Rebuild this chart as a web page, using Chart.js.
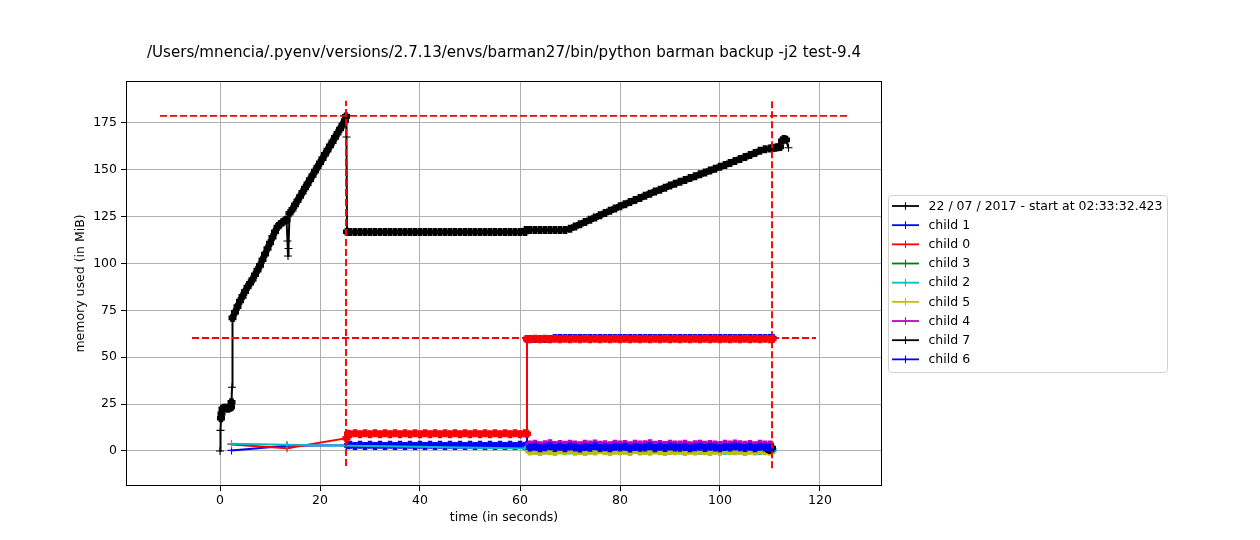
<!DOCTYPE html>
<html>
<head>
<meta charset="utf-8">
<script src="https://cdn.jsdelivr.net/npm/chart.js@4.4.0/dist/chart.umd.min.js"></script>
<style>
  html, body { margin: 0; padding: 0; background: #fff; }
  #marco { width: 1260px; height: 540px; }
</style>
</head>
<body>
<div id="marco"><canvas id="grafica" width="1260" height="540"></canvas></div>
<script>
// ==================== DATOS ====================

const titulo = '/Users/mnencia/.pyenv/versions/2.7.13/envs/barman27/bin/python barman backup -j2 test-9.4';
const etiquetaX = 'time (in seconds)';
const etiquetaY = 'memory used (in MiB)';
const nombres = ['22 / 07 / 2017 - start at 02:33:32.423', 'child 1', 'child 0', 'child 3', 'child 2', 'child 5', 'child 4', 'child 7', 'child 6'];

const ticksX = [0, 20, 40, 60, 80, 100, 120];
const ticksY = [0, 25, 50, 75, 100, 125, 150, 175];

// tiempos compartidos
const tMeseta = [26, 27, 28, 29, 30, 31, 32, 33, 34, 35, 36, 37, 38, 39, 40, 41, 42, 43, 44, 45, 46, 47, 48, 49, 50, 51, 52, 53, 54, 55, 56, 57, 58, 59, 60, 61];
const tFinal = [62, 63, 64, 65, 66, 67, 68, 69, 70, 71, 72, 73, 74, 75, 76, 77, 78, 79, 80, 81, 82, 83, 84, 85, 86, 87, 88, 89, 90, 91, 92, 93, 94, 95, 96, 97, 98, 99, 100, 101, 102, 103, 104, 105, 106, 107, 108, 109, 110];

// proceso principal
const mainInicioT = [0, 0.1, 0.2, 0.3, 0.5, 0.8, 1.2, 1.6, 2.0, 2.2,
  2.3, 2.4, 2.5, 3.0, 3.5, 4.0, 4.5, 5.0, 5.5, 6.0,
  6.5, 7.0, 7.5, 8.0, 8.5, 9.0, 9.5, 10.0, 10.5, 11.0,
  11.5, 12.0, 12.5, 13.0, 13.3, 13.5, 13.6, 13.7, 13.9, 14.5,
  15.0, 15.5, 16.0, 16.5, 17.0, 17.5, 18.0, 18.5, 19.0, 19.5,
  20.0, 20.5, 21.0, 21.5, 22.0, 22.5, 23.0, 23.5, 24.0, 24.5,
  25.0, 25.2, 25.3, 25.4, 25.6];
const mainInicioY = [0, 11, 17.5, 20, 22.5, 23, 23, 22.5, 23, 23.5,
  26, 34, 71, 74, 77, 80, 82.5, 85, 87.5, 89.5,
  91.5, 94, 96.5, 99, 102, 105, 108, 111, 114, 117,
  119.5, 121, 122, 123, 123.3, 112, 104, 108, 126.8, 129,
  131.3, 133.5, 135.8, 138, 140.3, 142.5, 144.8, 147, 149.3, 151.5,
  153.8, 156, 158.3, 160.5, 162.8, 165, 167.3, 169.5, 171.8, 174,
  176.3, 178.5, 167.5, 117, 116.8];
const mainMesetaY = [116.8, 116.8, 116.8, 116.8, 116.8, 116.8, 116.8, 116.8, 116.8, 116.8, 116.8, 116.8,
  116.8, 116.8, 116.8, 116.8, 116.8, 116.8, 116.8, 116.8, 116.8, 116.8, 116.8, 116.8,
  116.8, 116.8, 116.8, 116.8, 116.8, 116.8, 116.8, 116.8, 116.8, 116.8, 116.8, 116.8];
const mainPasoT = [61.2];
const mainPasoY = [117.9];
const mainFinalY = [117.9, 117.9, 117.9, 117.9, 117.9, 117.9, 117.9, 117.9,
  118.6, 119.8, 121.0, 122.2, 123.4, 124.6, 125.8, 127.0, 128.2, 129.4,
  130.6, 131.7, 132.8, 133.9, 135.0, 136.2, 137.3, 138.4, 139.4, 140.5,
  141.6, 142.6, 143.6, 144.6, 145.6, 146.6, 147.6, 148.6, 149.6, 150.6,
  151.6, 152.6, 153.7, 154.7, 155.8, 156.8, 157.9, 159.0, 160.2, 161.0,
  161.4];
const mainColaT = [110.5, 111, 111.5, 112, 112.4, 112.8, 113.2, 113.7];
const mainColaY = [161.6, 161.8, 162.0, 162.2, 165.5, 166.5, 166.0, 161.8];

// child 0
const c0InicioT = [2.3, 13.4, 25.3, 25.6];
const c0InicioY = [3.5, 1.4, 6.8, 9.2];
const c0MesetaY = [8.9, 9.5, 8.9, 9.5, 8.9, 9.5, 8.9, 9.5, 8.9, 9.5, 8.9, 9.5,
  8.9, 9.5, 8.9, 9.5, 8.9, 9.5, 8.9, 9.5, 8.9, 9.5, 8.9, 9.5,
  8.9, 9.5, 8.9, 9.5, 8.9, 9.5, 8.9, 9.5, 8.9, 9.5, 8.9, 9.5];
const c0PasoT = [61.4, 61.4];
const c0PasoY = [9.2, 59.7];
const c0FinalY = [59.6, 59.9, 59.6, 59.9, 59.6, 59.9, 59.6, 59.9, 59.6, 59.9,
  59.6, 59.9, 59.6, 59.9, 59.6, 59.9, 59.6, 59.9, 59.6, 59.9,
  59.6, 59.9, 59.6, 59.9, 59.6, 59.9, 59.6, 59.9, 59.6, 59.9,
  59.6, 59.9, 59.6, 59.9, 59.6, 59.9, 59.6, 59.9, 59.6, 59.9,
  59.6, 59.9, 59.6, 59.9, 59.6, 59.9, 59.6, 59.9, 59.6];
const c0ColaT = [110.5];
const c0ColaY = [59.7];

// child 1
const c1InicioT = [2.3, 13.4, 25.6];
const c1InicioY = [0.3, 2.8, 3.0];
const c1MesetaY = [3.3, 2.7, 3.3, 2.7, 3.3, 2.7, 3.3, 2.7, 3.3, 2.7, 3.3, 2.7,
  3.3, 2.7, 3.3, 2.7, 3.3, 2.7, 3.3, 2.7, 3.3, 2.7, 3.3, 2.7,
  3.3, 2.7, 3.3, 2.7, 3.3, 2.7, 3.3, 2.7, 3.3, 2.7, 3.3, 2.7];
const c1PasoT = [61.4, 61.4];
const c1PasoY = [3.0, 59.7];
const c1FinalY = [59.8, 59.8, 59.8, 59.8, 59.8,
  60.3, 60.3, 60.3, 60.3, 60.3, 60.3, 60.3, 60.3, 60.3, 60.3, 60.3,
  60.3, 60.3, 60.3, 60.3, 60.3, 60.3, 60.3, 60.3, 60.3, 60.3, 60.3,
  60.3, 60.3, 60.3, 60.3, 60.3, 60.3, 60.3, 60.3, 60.3, 60.3, 60.3,
  60.3, 60.3, 60.3, 60.3, 60.3, 60.3, 60.3, 60.3, 60.3, 60.3, 60.3];
const c1ColaT = [110.5];
const c1ColaY = [60.3];

// child 2
const c2InicioT = [2.3, 13.4, 61.5];
const c2InicioY = [3.8, 3.3, 1.3];
const c2FinalY = [0.4, 0.2, 0.5, 0.3, 0.1, 0.4, 0.6,
  0.2, 0.3, 0.5, 0.1, 0.4, 0.3, 0.2,
  0.5, 0.3, 0.6, 0.2, 0.4, 0.1, 0.3,
  0.5, 0.2, 0.4, 0.3, 0.6, 0.1, 0.4,
  0.2, 0.5, 0.3, 0.1, 0.4, 0.6, 0.2,
  0.3, 0.5, 0.2, 0.4, 0.1, 0.3, 0.5,
  0.2, 0.4, 0.6, 0.3, 0.1, 0.4, 0.3];
const c2ColaT = [110.5];
const c2ColaY = [0.4];

// child 3
const c3FinalY = [0.9, 0.4, 1.3, 0.7, 0.2, 1.1, 0.6,
  1.4, 0.5, 0.9, 1.2, 0.3, 1.0, 0.6,
  1.3, 0.8, 0.4, 1.1, 0.7, 1.4, 0.5,
  0.9, 1.2, 0.3, 0.8, 1.3, 0.6, 1.0,
  0.4, 1.1, 0.7, 1.4, 0.5, 0.9, 0.2,
  1.2, 0.6, 1.0, 1.3, 0.4, 0.8, 1.1,
  0.5, 0.9, 1.3, 0.7, 0.3, 1.0, 0.8];

// child 4
const c4FinalY = [3.4, 3.9, 3.1, 3.6, 4.1, 3.2, 3.7,
  3.3, 3.9, 3.5, 3.0, 3.8, 3.4, 4.0,
  3.3, 3.6, 3.1, 3.9, 3.5, 3.7, 3.0,
  3.8, 3.4, 3.6, 4.1, 3.3, 3.7, 3.2,
  3.9, 3.5, 3.4, 3.8, 3.1, 3.6, 3.9,
  3.3, 3.7, 3.5, 3.2, 3.8, 3.4, 4.0,
  3.6, 3.3, 3.7, 3.1, 3.9, 3.5, 3.4];

// child 5
const c5FinalY = [-0.3, 0.2, -0.6, 0.4, -0.1, -0.5, 0.3,
  -0.2, 0.5, -0.4, 0.0, -0.6, 0.2, -0.3,
  0.4, -0.1, -0.5, 0.3, -0.2, 0.1, -0.6,
  0.5, -0.3, 0.0, -0.4, 0.3, -0.1, -0.5,
  0.2, -0.2, 0.4, -0.6, 0.1, -0.3, 0.3,
  -0.1, -0.5, 0.2, -0.4, 0.5, 0.0, -0.2,
  0.3, -0.6, 0.1, -0.3, 0.4, -0.1, -0.4];

// child 6
const c6FinalY = [1.8, 2.3, 1.4, 2.0, 2.5, 1.6, 2.2,
  1.5, 2.4, 1.9, 1.3, 2.1, 1.7, 2.5,
  1.6, 2.0, 1.4, 2.3, 1.8, 2.2, 1.3,
  2.1, 1.7, 1.9, 2.5, 1.5, 2.2, 1.6,
  2.4, 1.8, 1.7, 2.1, 1.4, 2.0, 2.3,
  1.6, 2.2, 1.9, 1.5, 2.1, 1.8, 2.4,
  2.0, 1.6, 2.2, 1.4, 2.3, 1.9, 1.8];

// child 7
const c7T = [109.6, 110.0, 110.4];
const c7Y = [1.0, 0.5, 1.6];

// lineas discontinuas de maximos
const maxH1X = [-12, 125.6];
const maxH1Y = [178.8, 178.8];
const maxV1X = [25.2, 25.2];
const maxV1Y = [-8.0, 186.8];
const maxH2X = [-5.6, 119.2];
const maxH2Y = [60.3, 60.3];
const maxV2X = [110.4, 110.4];
const maxV2Y = [-9.2, 187.8];

// ==================== CONSTRUCCION DE LA GRAFICA ====================

const FUENTE = '"DejaVu Sans", sans-serif';

function juntar(tiempos, valores) {
    return tiempos.map((t, i) => ({ x: t, y: valores[i] }));
}

// las muestras reales van cada 0.1 s: donde los puntos quedan pegados
// las cruces se pintan gruesas para que formen la banda continua
function grosorCruz(ctx) {
    const d = ctx.dataset.data;
    const i = ctx.dataIndex;
    const p = d[i];
    if (!p) return 1.1;
    const cerca = q => q && Math.abs(q.x - p.x) <= 1.01 && Math.abs(q.y - p.y) < 4;
    return (cerca(d[i - 1]) || cerca(d[i + 1])) ? 4.6 : 1.1;
}

function serie(nombre, color, puntos) {
    return {
        label: nombre,
        data: puntos,
        enLeyenda: true,
        borderColor: color,
        backgroundColor: color,
        borderWidth: 2,
        pointStyle: 'cross',
        pointRadius: 4,
        pointBorderWidth: grosorCruz,
        pointBorderColor: color,
        tension: 0,
        fill: false
    };
}

function guia(xs, ys) {
    return {
        label: 'max',
        data: juntar(xs, ys),
        enLeyenda: false,
        borderColor: '#ff0000',
        borderWidth: 1.9,
        borderDash: [7, 3],
        pointRadius: 0,
        tension: 0,
        fill: false
    };
}

const conjuntos = [
    serie(nombres[0], '#000000', [...juntar(mainInicioT, mainInicioY), ...juntar(tMeseta, mainMesetaY),
        ...juntar(mainPasoT, mainPasoY), ...juntar(tFinal, mainFinalY), ...juntar(mainColaT, mainColaY)]),
    serie(nombres[1], '#0000ff', [...juntar(c1InicioT, c1InicioY), ...juntar(tMeseta, c1MesetaY),
        ...juntar(c1PasoT, c1PasoY), ...juntar(tFinal, c1FinalY), ...juntar(c1ColaT, c1ColaY)]),
    serie(nombres[2], '#ff0000', [...juntar(c0InicioT, c0InicioY), ...juntar(tMeseta, c0MesetaY),
        ...juntar(c0PasoT, c0PasoY), ...juntar(tFinal, c0FinalY), ...juntar(c0ColaT, c0ColaY)]),
    serie(nombres[3], '#008000', juntar(tFinal, c3FinalY)),
    serie(nombres[4], '#00bfbf', [...juntar(c2InicioT, c2InicioY), ...juntar(tFinal, c2FinalY), ...juntar(c2ColaT, c2ColaY)]),
    serie(nombres[5], '#bfbf00', juntar(tFinal, c5FinalY)),
    serie(nombres[6], '#bf00bf', juntar(tFinal, c4FinalY)),
    serie(nombres[7], '#000000', juntar(c7T, c7Y)),
    serie(nombres[8], '#0000ff', juntar(tFinal, c6FinalY)),
    guia(maxH1X, maxH1Y),
    guia(maxV1X, maxV1Y),
    guia(maxH2X, maxH2Y),
    guia(maxV2X, maxV2Y)
];
// en matplotlib lo ultimo queda encima
conjuntos.forEach((c, i) => { c.order = conjuntos.length - i; });

const marcoPlugin = {
    id: 'marco',
    afterDatasetsDraw(chart) {
        const { ctx, chartArea: a } = chart;
        ctx.save();
        ctx.strokeStyle = '#000';
        ctx.lineWidth = 1;
        ctx.strokeRect(Math.round(a.left) + 0.5, Math.round(a.top) + 0.5, Math.round(a.right - a.left) - 1, Math.round(a.bottom - a.top) - 1);
        ctx.restore();
    }
};

const tituloPlugin = {
    id: 'tituloMpl',
    afterDraw(chart) {
        const ctx = chart.ctx;
        const a = chart.chartArea;
        ctx.save();
        ctx.fillStyle = '#000';
        ctx.font = '15.1px ' + FUENTE;
        ctx.textAlign = 'center';
        ctx.textBaseline = 'alphabetic';
        ctx.fillText(titulo, (a.left + a.right) / 2, 56.5);
        ctx.restore();
    }
};

const leyendaPlugin = {
    id: 'leyendaMpl',
    afterDraw(chart) {
        const ctx = chart.ctx;
        const items = chart.data.datasets.filter(d => d.enLeyenda);
        const x0 = 888.5, y0 = 195.5, w = 279, h = 177, r = 3;
        ctx.save();
        ctx.beginPath();
        ctx.moveTo(x0 + r, y0);
        ctx.arcTo(x0 + w, y0, x0 + w, y0 + h, r);
        ctx.arcTo(x0 + w, y0 + h, x0, y0 + h, r);
        ctx.arcTo(x0, y0 + h, x0, y0, r);
        ctx.arcTo(x0, y0, x0 + w, y0, r);
        ctx.closePath();
        ctx.fillStyle = 'rgba(255,255,255,0.8)';
        ctx.fill();
        ctx.strokeStyle = '#d0d0d0';
        ctx.lineWidth = 1;
        ctx.stroke();

        ctx.font = '12.5px ' + FUENTE;
        ctx.textAlign = 'left';
        ctx.textBaseline = 'middle';
        items.forEach((d, i) => {
            const y = 206 + i * 19.17;
            ctx.strokeStyle = d.borderColor;
            ctx.lineWidth = 1.8;
            ctx.beginPath();
            ctx.moveTo(892, y);
            ctx.lineTo(919, y);
            ctx.stroke();
            ctx.lineWidth = 1.1;
            ctx.beginPath();
            ctx.moveTo(905.5, y - 3.8);
            ctx.lineTo(905.5, y + 3.8);
            ctx.stroke();
            ctx.fillStyle = '#000';
            ctx.fillText(d.label, 928.5, y + 0.5);
        });
        ctx.restore();
    }
};

new Chart(document.getElementById('grafica').getContext('2d'), {
    type: 'line',
    data: { datasets: conjuntos },
    options: {
        responsive: false,
        animation: false,
        events: [],
        layout: { padding: { top: 81, right: 378, bottom: 0, left: 0 } },
        plugins: {
            legend: { display: false },
            tooltip: { enabled: false },
            title: { display: false }
        },
        scales: {
            x: {
                type: 'linear',
                min: -18.8,
                max: 132.4,
                afterBuildTicks: eje => { eje.ticks = ticksX.map(v => ({ value: v })); },
                afterFit: eje => { eje.height = 54; },
                grid: { color: '#b0b0b0', lineWidth: 1, tickColor: '#000', tickLength: 5, drawTicks: true },
                border: { display: false },
                ticks: { color: '#000', font: { family: FUENTE, size: 12.5 }, padding: 2, maxRotation: 0, autoSkip: false },
                title: { display: true, text: etiquetaX, color: '#000', font: { family: FUENTE, size: 12.5 }, padding: { top: 0, bottom: 14.5 } }
            },
            y: {
                type: 'linear',
                min: -18.7,
                max: 197.4,
                afterBuildTicks: eje => { eje.ticks = ticksY.map(v => ({ value: v })); },
                afterFit: eje => { eje.width = 126; },
                grid: { color: '#b0b0b0', lineWidth: 1, tickColor: '#000', tickLength: 5, drawTicks: true },
                border: { display: false },
                ticks: { color: '#000', font: { family: FUENTE, size: 12.5 }, padding: 4, autoSkip: false },
                title: { display: true, text: etiquetaY, color: '#000', font: { family: FUENTE, size: 12.5 }, padding: { top: 73.5, bottom: 0 } }
            }
        }
    },
    plugins: [marcoPlugin, tituloPlugin, leyendaPlugin]
});
</script>
</body>
</html>
